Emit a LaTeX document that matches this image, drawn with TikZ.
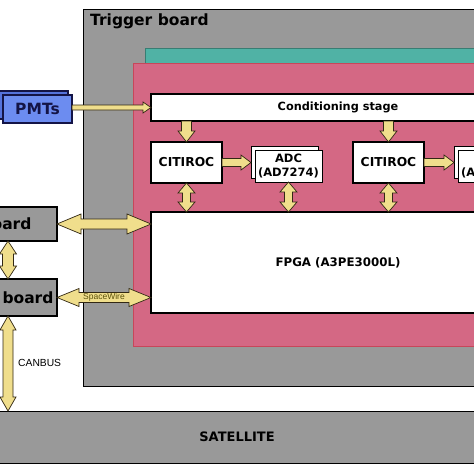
\documentclass[tikz,border=0pt]{standalone}
\usepackage{fontspec}
\setmainfont{DejaVu Sans}
\newfontfamily\arialf{Liberation Sans}
\usetikzlibrary{calc}
\definecolor{tgrey}{RGB}{153,153,153}
\definecolor{tpink}{RGB}{212,104,132}
\definecolor{tpinkedge}{RGB}{200,70,90}
\definecolor{tteal}{RGB}{80,178,165}
\definecolor{tblue}{RGB}{108,140,240}
\definecolor{tblueback}{RGB}{85,115,220}
\definecolor{tnavy}{RGB}{20,20,70}
\definecolor{tyel}{RGB}{240,222,140}
\definecolor{tedge}{RGB}{50,40,20}
\definecolor{tolive}{RGB}{90,80,10}
\newcommand\fatone[5]{%
  \coordinate (fS) at (#1);
  \coordinate (fE) at (#2);
  \coordinate (fB) at ($(fE)!#4!(fS)$);
  \filldraw[fatarrow] ($(fS)!#3!90:(fE)$) -- ($(fB)!#3!90:(fE)$) -- ($(fB)!#5!90:(fE)$) -- (fE)
    -- ($(fB)!#5!-90:(fE)$) -- ($(fB)!#3!-90:(fE)$) -- ($(fS)!#3!-90:(fE)$) -- cycle;}
\newcommand\fattwo[5]{%
  \coordinate (fS) at (#1);
  \coordinate (fE) at (#2);
  \coordinate (fA) at ($(fS)!#4!(fE)$);
  \coordinate (fB) at ($(fE)!#4!(fS)$);
  \filldraw[fatarrow] ($(fA)!#3!90:(fE)$) -- ($(fB)!#3!90:(fE)$) -- ($(fB)!#5!90:(fE)$) -- (fE)
    -- ($(fB)!#5!-90:(fE)$) -- ($(fB)!#3!-90:(fE)$) -- ($(fA)!#3!-90:(fE)$)
    -- ($(fA)!#5!-90:(fE)$) -- (fS) -- ($(fA)!#5!90:(fE)$) -- cycle;}
\begin{document}
\begin{tikzpicture}[x=1pt,y=-1pt,
  blk/.style={draw=black, line width=1.3pt, inner sep=0pt, outer sep=0pt, anchor=north west, font=\bfseries},
  whitebox/.style={blk, fill=white},
  greybox/.style={blk, fill=tgrey},
  fatarrow/.style={fill=tyel, draw=tedge, line width=0.7pt, line join=miter}]
\useasboundingbox (0,0) rectangle (474,474);
\clip (0,0) rectangle (474,474);
\fill[white] (0,0) rectangle (474,474);
% trigger board
\node[greybox, line width=1pt, minimum width=420pt, minimum height=377pt] (trig) at (83,9) {};
\node[anchor=west, font=\fontsize{15.5}{17}\selectfont\bfseries, inner sep=0pt] (triglabel) at (90,21.5) {Trigger board};
\node[blk, draw=tteal!70!black, line width=0.6pt, fill=tteal, minimum width=360pt, minimum height=100pt] (teal) at (145,48) {};
\node[blk, draw=tpinkedge, line width=0.8pt, fill=tpink, minimum width=380pt, minimum height=283pt] (pink) at (133,63) {};
% inner blocks
\node[whitebox, minimum width=374pt, minimum height=27pt, font=\fontsize{11.3}{13}\selectfont\bfseries] (cond) at (151,94) {Conditioning stage};
\node[whitebox, minimum width=374pt, minimum height=101pt, font=\fontsize{11.8}{13}\selectfont\bfseries] (fpga) at (151,212) {FPGA (A3PE3000L)};
\node[whitebox, minimum width=71pt, minimum height=41pt, font=\fontsize{12.3}{14}\selectfont\bfseries] (cit1) at (151,142) {CITIROC};
\node[whitebox, minimum width=71pt, minimum height=41pt, font=\fontsize{12.3}{14}\selectfont\bfseries] (cit2) at (353,142) {CITIROC};
\node[whitebox, line width=1pt, minimum width=67pt, minimum height=32pt] (adc1b) at (251,146) {};
\node[whitebox, line width=1pt, minimum width=67pt, minimum height=32pt, align=center, font=\fontsize{11.5}{13.5}\selectfont\bfseries] (adc1f) at (255,150) {ADC\\(AD7274)};
\node[whitebox, line width=1pt, minimum width=67pt, minimum height=32pt] (adc2b) at (454,146) {};
\node[whitebox, line width=1pt, minimum width=67pt, minimum height=32pt, align=center, font=\fontsize{11.5}{13.5}\selectfont\bfseries] (adc2f) at (458,150) {ADC\\(AD7274)};
% PMTs
\node[blk, draw=tnavy, fill=tblueback, minimum width=70pt, minimum height=28pt] (pmtb) at (-2,91) {};
\node[blk, draw=tnavy, fill=tblue, minimum width=69pt, minimum height=28pt, font=\fontsize{15.5}{17}\selectfont\bfseries, text=tnavy] (pmtf) at (3,95) {PMTs};
% left boards
\node[greybox, minimum width=102pt, minimum height=34pt, font=\fontsize{15.5}{17}\selectfont\bfseries] (b1) at (-45,207) {board};
\node[greybox, line width=2pt, minimum width=58pt, minimum height=37pt, font=\fontsize{15.5}{17}\selectfont\bfseries] (b2) at (-1,279) {board};
% satellite
\node[greybox, line width=1pt, minimum width=478pt, minimum height=52pt, font=\fontsize{13}{15}\selectfont\bfseries] (sat) at (-2,411) {SATELLITE};
\coordinate (lx) at (8,0);
% arrows
\fatone{pmtf.east |- cond.west}{cond.west}{2.5pt}{8pt}{5.5pt}
\fatone{cit1.north |- cond.south}{cit1.north}{5pt}{11pt}{8.5pt}
\fatone{cit2.north |- cond.south}{cit2.north}{5pt}{11pt}{8.5pt}
\fatone{cit1.east}{adc1b.west |- cit1.east}{4pt}{10pt}{7.5pt}
\fatone{cit2.east}{adc2b.west |- cit2.east}{4pt}{10pt}{7.5pt}
\fattwo{cit1.south}{cit1.south |- fpga.north}{4pt}{10pt}{8.5pt}
\fattwo{adc1f.south}{adc1f.south |- fpga.north}{4pt}{10pt}{8.5pt}
\fattwo{cit2.south}{cit2.south |- fpga.north}{4pt}{10pt}{8.5pt}
\fattwo{b1.east}{fpga.west |- b1.east}{5pt}{24pt}{10pt}
\fattwo{b2.east}{fpga.west |- b2.east}{5pt}{22pt}{9pt}
\fattwo{b1.south -| lx}{b2.north -| lx}{5.5pt}{13pt}{8.5pt}
\fattwo{b2.south -| lx}{sat.north -| lx}{5pt}{14pt}{8pt}
\node[font=\arialf\fontsize{8.5}{9}\selectfont, text=tolive, inner sep=0pt] (spw) at ($(b2.east)!0.5!(fpga.west |- b2.east)$) {SpaceWire};
\node[font=\arialf\fontsize{10.3}{12}\selectfont, anchor=west, inner sep=0pt] (canbus) at (18,363) {CANBUS};
\end{tikzpicture}
\end{document}
